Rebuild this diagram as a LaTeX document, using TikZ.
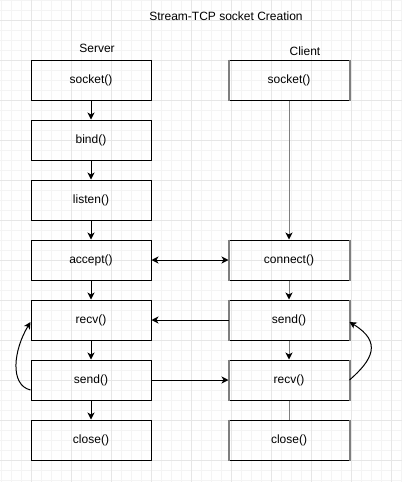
\documentclass[tikz,border=0pt]{standalone}
\usepackage{fontspec}
\setmainfont{Liberation Sans}
\usetikzlibrary{arrows.meta}
\definecolor{gridminor}{HTML}{F4F4F4}
\definecolor{gridmajor}{HTML}{E6E6E6}
\definecolor{edgegray}{HTML}{7F7F7F}
\tikzset{
  box/.style={draw=black,line width=1pt,minimum width=120pt,minimum height=40pt,inner sep=0pt,font=\fontsize{12}{14}\selectfont},
  lbl/.style={font=\fontsize{12}{14}\selectfont},
  arr/.style={-{Stealth[length=7pt,width=7pt,inset=2pt]},line width=1pt},
  garr/.style={draw=edgegray,line width=1pt,-{Stealth[length=7pt,width=7pt,inset=2pt,color=black]}},
  sideedge/.style={draw=edgegray,line width=2pt},
}
\begin{document}
\begin{tikzpicture}[x=1pt,y=-1pt]
\useasboundingbox (0,0) rectangle (402,482);
\foreach \gx in {1,11,...,401} \draw[gridminor,line width=0.8pt] (\gx,0) -- (\gx,482);
\foreach \gy in {0,10,...,480} \draw[gridminor,line width=0.8pt] (0,\gy) -- (402,\gy);
\foreach \gx in {31,71,...,391} \draw[gridmajor,line width=0.8pt] (\gx,0) -- (\gx,482);
\foreach \gy in {20,60,...,460} \draw[gridmajor,line width=0.8pt] (0,\gy) -- (402,\gy);

\node[lbl](title) at (226,16) {Stream-TCP socket Creation};
\node[lbl](server) at (97,48) {Server};
\node[lbl](client) at (305,51) {Client};

\node[box](sSocket) at (91,80) {socket()};
\node[box](sBind) at (91,140) {bind()};
\node[box](sListen) at (91,200) {listen()};
\node[box](sAccept) at (91,260) {accept()};
\node[box](sRecv) at (91,320) {recv()};
\node[box](sSend) at (91,380) {send()};
\node[box](sClose) at (91,440) {close()};

\node[box](cSocket) at (289,80) {socket()};
\node[box](cConnect) at (289,260) {connect()};
\node[box](cSend) at (289,320) {send()};
\node[box](cRecv) at (289,380) {recv()};
\node[box](cClose) at (289,440) {close()};
\foreach \n in {cSocket,cConnect,cSend,cRecv,cClose}{
  \draw[sideedge] (\n.north west) -- (\n.south west);
  \draw[sideedge] (\n.north east) -- (\n.south east);
}

\draw[arr] (sSocket) -- (sBind);
\draw[arr] (sBind) -- (sListen);
\draw[arr] (sListen) -- (sAccept);
\draw[arr] (sAccept) -- (sRecv);
\draw[arr] (sRecv) -- (sSend);
\draw[arr] (sSend) -- (sClose);

\draw[garr] (cSocket) -- (cConnect);
\draw[garr] (cConnect) -- (cSend);
\draw[garr] (cSend) -- (cRecv);
\draw[draw=edgegray,line width=1pt] (cRecv) -- (cClose);

\draw[arr,{Stealth[length=7pt,width=7pt,inset=2pt]}-{Stealth[length=7pt,width=7pt,inset=2pt]}] (sAccept) -- (cConnect);
\draw[arr] (cSend) -- (sRecv);
\draw[arr] (sSend) -- (cRecv);

\draw[arr] ([yshift=-10pt]sSend.west) .. controls +(-21,-5) and +(-17,28) .. ([yshift=-2pt]sRecv.west);
\draw[arr] (cRecv.east) .. controls +(23,-20) and +(33,20) .. ([yshift=-2pt]cSend.east);
\end{tikzpicture}
\end{document}
